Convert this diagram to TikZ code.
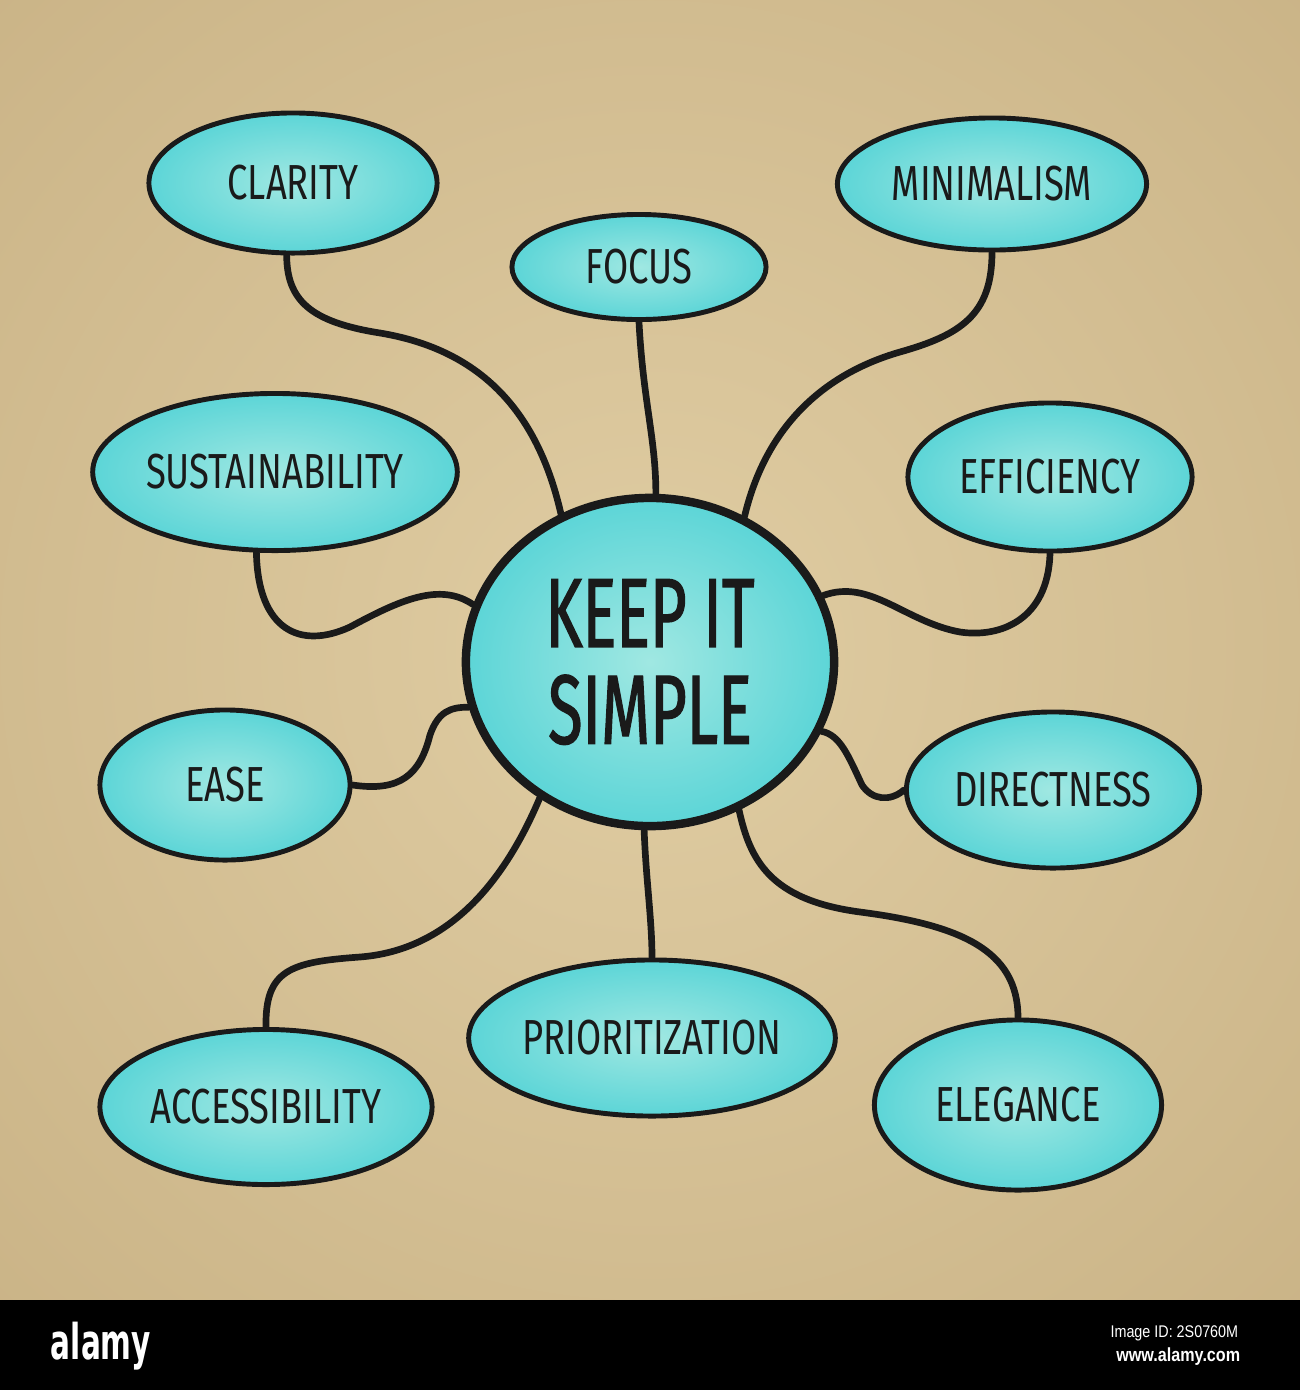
\documentclass[tikz,border=0pt]{standalone}
\usepackage{fontspec}
\usetikzlibrary{shapes.geometric}
\newfontfamily\handfont[FakeStretch=0.74]{Fira Sans}
\newfontfamily\corefont[FakeStretch=0.64,FakeBold=1.2]{Fira Sans}
\newfontfamily\logofont[FakeStretch=0.6]{DejaVu Sans}
\newfontfamily\tagfont[FakeStretch=0.85]{Liberation Sans}
\definecolor{paper}{RGB}{224,205,163}
\definecolor{paperdark}{RGB}{194,170,124}
\definecolor{bubble}{RGB}{92,213,215}
\definecolor{bubblelight}{RGB}{160,232,226}
\definecolor{ink}{RGB}{26,26,26}
\tikzset{every picture/.style={line width=1.2pt}}

\begin{document}
\begin{tikzpicture}[x=0.01cm,y=-0.01cm,
  idea/.style={ellipse, draw=ink, line width=1.4pt, inner color=bubblelight, outer color=bubble, inner sep=0pt, text=ink, font=\handfont\fontsize{14}{16}\selectfont},
  link/.style={draw=ink, line width=1.9pt, line cap=round}]
    % paper
    \begin{scope}
        \clip (0,0) rectangle (1300,1300);
        \shade[inner color=paper, outer color=paperdark] (-650,-650) rectangle (1950,1950);
    \end{scope}
    \fill[black] (0,1300) rectangle (1300,1390);
    \useasboundingbox (0,0) rectangle (1300,1390);

    \node[idea, line width=2.4pt, minimum width=3.68cm, minimum height=3.28cm, align=center, font=\corefont\fontsize{28}{27.5}\selectfont] (core) at (650,662) {KEEP IT\\SIMPLE};

    \node[idea, minimum width=2.88cm, minimum height=1.40cm] (clarity) at (293,183) {CLARITY};
    \node[idea, minimum width=2.54cm, minimum height=1.05cm] (focus) at (639,267) {FOCUS};
    \node[idea, minimum width=3.09cm, minimum height=1.32cm] (minimal) at (992,184) {MINIMALISM};
    \node[idea, minimum width=3.50cm, minimum height=1.57cm] (sustain) at (275,472) {SUSTAINABILITY};
    \node[idea, minimum width=2.84cm, minimum height=1.48cm] (effic) at (1050,477) {EFFICIENCY};
    \node[idea, minimum width=2.50cm, minimum height=1.50cm] (ease) at (225,785) {EASE};
    \node[idea, minimum width=2.93cm, minimum height=1.56cm] (direct) at (1053,790) {DIRECTNESS};
    \node[idea, minimum width=3.32cm, minimum height=1.55cm] (access) at (266,1107) {ACCESSIBILITY};
    \node[idea, minimum width=3.56cm, minimum height=1.56cm] (prior) at (652,1038) {PRIORITIZATION};
    \node[idea, minimum width=2.87cm, minimum height=1.70cm] (eleg) at (1018,1105) {ELEGANCE};

    % branches
    \draw[link] (clarity.265) .. controls (287,300) and (310,322) .. (380,333)
        .. controls (470,348) and (535,400) .. (core.121);
    \draw[link] (focus.270) .. controls (643,400) and (656,440) .. (core.88);
    \draw[link] (minimal.270) .. controls (992,315) and (960,335) .. (900,352)
        .. controls (820,375) and (765,430) .. (core.57);
    \draw[link] (sustain.257) .. controls (258,630) and (300,650) .. (350,627)
        .. controls (400,600) and (440,582) .. (core.162);
    \draw[link] (effic.270) .. controls (1048,620) and (1000,638) .. (960,632)
        .. controls (905,622) and (870,578) .. (core.21);
    \draw[link] (ease.0) .. controls (400,792) and (420,775) .. (430,735)
        .. controls (438,712) and (450,707) .. (core.194);
    \draw[link] (core.338) .. controls (840,735) and (848,755) .. (862,785)
        .. controls (872,800) and (890,802) .. (direct.180);
    \draw[link] (access.90) .. controls (265,970) and (290,962) .. (360,957)
        .. controls (450,950) and (505,880) .. (core.231);
    \draw[link] (core.268) .. controls (646,880) and (652,920) .. (prior.90);
    \draw[link] (core.301) .. controls (750,860) and (770,900) .. (860,912)
        .. controls (960,925) and (1018,950) .. (eleg.90);

    % footer
    \node[text=white, font=\logofont\bfseries\fontsize{14}{14}\selectfont] (logo) at (101,1346) {alamy};
    \node[anchor=east, text=white, font=\tagfont\fontsize{4.8}{5}\selectfont] (idtag) at (1252,1333) {Image ID: 2S0760M};
    \node[anchor=east, text=white, font=\tagfont\bfseries\fontsize{5.4}{6}\selectfont] (site) at (1254,1357) {www.alamy.com};
\end{tikzpicture}
\end{document}
